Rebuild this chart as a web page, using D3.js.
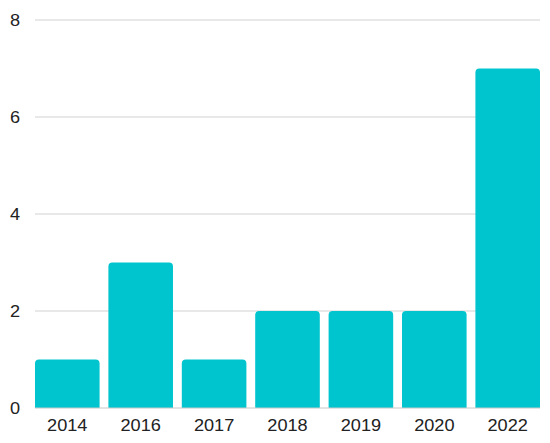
<!DOCTYPE html>
<html>
<head>
<meta charset="utf-8">
<script src="https://cdn.jsdelivr.net/npm/d3@7"></script>
<style>
  body { margin: 0; background: #fff; }
  text { font-family: "Liberation Sans", Arial, sans-serif; }
</style>
</head>
<body>
<svg id="chart" width="550" height="443"></svg>
<script>
// data
let years = ["2014", "2016", "2017", "2018", "2019", "2020", "2022"]
let counts = [1, 3, 1, 2, 2, 2, 7]
let yTicks = [0, 2, 4, 6, 8]

let svg = d3.select("#chart"),
    plotLeft = 35, plotRight = 540, plotTop = 20, plotBottom = 408

let x = d3.scaleBand().domain(years).range([plotLeft, plotRight]).paddingInner(0.12).paddingOuter(0)
let y = d3.scaleLinear().domain([0, 8]).range([plotBottom, plotTop])

// the reference text is a bit wider than plain Arial
let stretch = "scale(1.1,1)"

// gridlines
svg.append("g").selectAll("line")
  .data(yTicks.filter(d => d > 0))
  .enter().append("line")
    .attr("x1", plotLeft).attr("x2", plotRight)
    .attr("y1", d => y(d)).attr("y2", d => y(d))
    .attr("stroke", "#e0e0e0").attr("stroke-width", 1.3)

// y labels
svg.append("g").selectAll("text")
  .data(yTicks)
  .enter().append("text")
    .attr("transform", d => "translate(15," + y(d) + ")" + stretch)
    .attr("dy", "0.35em")
    .attr("text-anchor", "middle")
    .attr("font-size", 16.5)
    .attr("fill", "#222")
    .text(d => d)

// bars, rounded on top only
let r = 4
svg.append("g").selectAll("path")
  .data(years.map((d, i) => ({year: d, value: counts[i]})))
  .enter().append("path")
    .attr("fill", "#00c5ce")
    .attr("d", function(d) {
      let x0 = x(d.year), w = x.bandwidth(), y0 = y(d.value), y1 = y(0)
      return "M" + x0 + "," + y1 +
        "V" + (y0 + r) + "Q" + x0 + "," + y0 + " " + (x0 + r) + "," + y0 +
        "H" + (x0 + w - r) + "Q" + (x0 + w) + "," + y0 + " " + (x0 + w) + "," + (y0 + r) +
        "V" + y1 + "Z"
    })

// baseline
svg.append("line")
  .attr("x1", plotLeft).attr("x2", plotRight)
  .attr("y1", y(0)).attr("y2", y(0))
  .attr("stroke", "#c8c8c8").attr("stroke-width", 1)

// x labels
svg.append("g").selectAll("text")
  .data(years)
  .enter().append("text")
    .attr("transform", d => "translate(" + (x(d) + x.bandwidth() / 2) + ",425)" + stretch)
    .attr("dy", "0.35em")
    .attr("text-anchor", "middle")
    .attr("font-size", 16.5)
    .attr("fill", "#222")
    .text(d => d)
</script>
</body>
</html>
